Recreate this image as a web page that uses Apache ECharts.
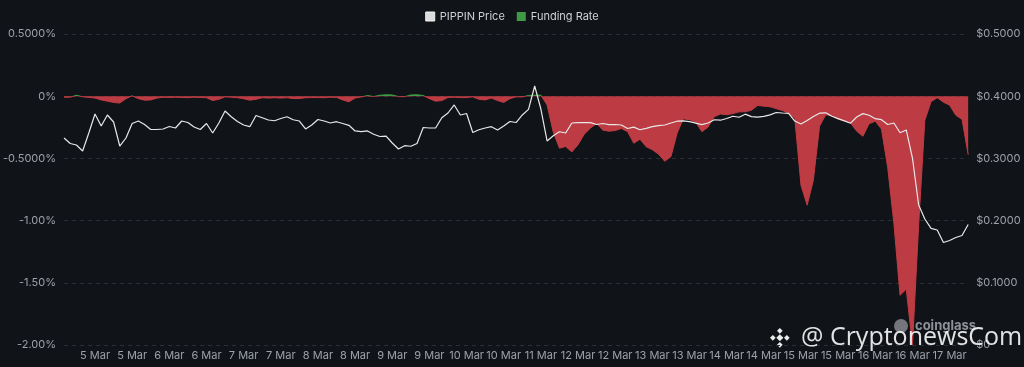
<!DOCTYPE html>
<html>
<head>
<meta charset="utf-8">
<script src="https://cdn.jsdelivr.net/npm/echarts@6/dist/echarts.min.js"></script>
<style>
html,body{margin:0;padding:0;background:#101318;}
#chart{width:1024px;height:367px;}
</style>
</head>
<body>
<div id="chart"></div>
<script>
// ---- data ----
const xTickLabels = ['5 Mar','5 Mar','6 Mar','6 Mar','7 Mar','7 Mar','8 Mar','8 Mar','9 Mar','9 Mar','10 Mar','10 Mar',
  '11 Mar','12 Mar','12 Mar','13 Mar','13 Mar','14 Mar','14 Mar','15 Mar','15 Mar','16 Mar','16 Mar','17 Mar'];
const firstTickIndex = 5;
const tickEvery = 6;

const pippinPrice = [
  0.3328, 0.3240, 0.3215, 0.3119, 0.3408, 0.3714, 0.3521, 0.3698, 0.3585, 0.3199,
  0.3328, 0.3561, 0.3601, 0.3545, 0.3465, 0.3465, 0.3473, 0.3513, 0.3489, 0.3601,
  0.3577, 0.3505, 0.3465, 0.3561, 0.3408, 0.3569, 0.3762, 0.3670, 0.3593, 0.3537,
  0.3510, 0.3690, 0.3654, 0.3617, 0.3605, 0.3641, 0.3669, 0.3621, 0.3601, 0.3473,
  0.3537, 0.3625, 0.3601, 0.3569, 0.3590, 0.3561, 0.3532, 0.3441, 0.3432, 0.3441,
  0.3389, 0.3352, 0.3359, 0.3248, 0.3151, 0.3204, 0.3195, 0.3240, 0.3497, 0.3489,
  0.3489, 0.3654, 0.3730, 0.3859, 0.3698, 0.3722, 0.3416, 0.3460, 0.3489, 0.3510,
  0.3457, 0.3521, 0.3593, 0.3577, 0.3698, 0.3789, 0.4164, 0.3794, 0.3280, 0.3363,
  0.3429, 0.3408, 0.3569, 0.3574, 0.3577, 0.3574, 0.3545, 0.3561, 0.3542, 0.3545,
  0.3537, 0.3481, 0.3502, 0.3460, 0.3484, 0.3510, 0.3527, 0.3537, 0.3569, 0.3598,
  0.3603, 0.3590, 0.3568, 0.3542, 0.3569, 0.3621, 0.3614, 0.3641, 0.3678, 0.3662,
  0.3711, 0.3672, 0.3664, 0.3677, 0.3699, 0.3738, 0.3730, 0.3725, 0.3601, 0.3553,
  0.3609, 0.3675, 0.3727, 0.3733, 0.3677, 0.3640, 0.3603, 0.3566, 0.3666, 0.3720,
  0.3693, 0.3638, 0.3622, 0.3545, 0.3569, 0.3412, 0.3457, 0.3006, 0.2251, 0.2026,
  0.1876, 0.1849, 0.1648, 0.1680, 0.1728, 0.1760, 0.1937
];

const fundingRate = [
  -0.008, -0.008, 0.008, -0.005, -0.010, -0.015, -0.030, -0.040, -0.050, -0.055,
  -0.020, 0.003, -0.020, -0.032, -0.030, -0.015, -0.008, -0.010, -0.008, -0.010,
  -0.012, -0.008, -0.010, -0.012, -0.035, -0.025, -0.005, -0.008, -0.012, -0.020,
  -0.032, -0.025, -0.012, -0.015, -0.012, -0.015, -0.012, -0.019, -0.019, -0.012,
  -0.011, -0.011, -0.012, -0.008, -0.010, -0.030, -0.045, -0.015, -0.006, 0.005,
  -0.003, 0.008, 0.011, 0.010, -0.003, -0.004, 0.010, 0.011, 0.006, -0.020,
  -0.040, -0.035, -0.010, -0.008, -0.011, -0.011, -0.005, -0.025, -0.030, -0.015,
  -0.035, -0.050, -0.020, -0.005, -0.006, 0.006, 0.008, 0.008, -0.070, -0.289,
  -0.418, -0.404, -0.448, -0.390, -0.305, -0.257, -0.219, -0.273, -0.281, -0.276,
  -0.260, -0.285, -0.378, -0.346, -0.406, -0.430, -0.466, -0.523, -0.486, -0.297,
  -0.182, -0.189, -0.209, -0.285, -0.249, -0.165, -0.143, -0.149, -0.140, -0.126,
  -0.125, -0.113, -0.074, -0.080, -0.085, -0.100, -0.115, -0.138, -0.177, -0.715,
  -0.876, -0.675, -0.241, -0.149, -0.159, -0.185, -0.197, -0.215, -0.281, -0.322,
  -0.221, -0.201, -0.265, -0.571, -1.021, -1.600, -1.551, -2.000, -1.037, -0.193,
  -0.044, -0.012, -0.048, -0.072, -0.153, -0.185, -0.470
];

const leftTicks = [-2, -1.5, -1, -0.5, 0, 0.5];
const leftTickLabels = ['-2.00%', '-1.50%', '-1.00%', '-0.5000%', '0%', '0.5000%'];
const rightTicks = [0, 0.1, 0.2, 0.3, 0.4, 0.5];
const rightTickLabels = ['$0', '$0.1000', '$0.2000', '$0.3000', '$0.4000', '$0.5000'];

// ---- chart ----
const categories = pippinPrice.map((_, i) => String(i));
const RED = '#bd3b42';
const GREEN = '#3f9a46';
const LABEL = '#9da1a8';
const FONT = 'Inter, "Noto Sans", sans-serif';

function tickLabel(ticks, labels, v) {
  for (let k = 0; k < ticks.length; k++) {
    if (Math.abs(ticks[k] - v) < 1e-9) return labels[k];
  }
  return '';
}

function diamond(cx, cy, s) {
  return {type: 'rect', x: cx, y: cy, rotation: Math.PI / 4,
    shape: {x: -s / 2, y: -s / 2, width: s, height: s},
    style: {fill: 'rgba(255,255,255,0.92)'}};
}

const chart = echarts.init(document.getElementById('chart'), null, {renderer: 'canvas'});
chart.setOption({
  backgroundColor: '#101318',
  animation: false,
  textStyle: {fontFamily: FONT},
  legend: {
    top: 6,
    left: 'center',
    itemWidth: 9,
    itemHeight: 9,
    itemGap: 12,
    icon: 'rect',
    textStyle: {color: '#cfd1d5', fontSize: 11, fontFamily: FONT},
    data: [
      {name: 'PIPPIN Price', itemStyle: {color: '#dcdcdc', borderColor: '#f2f2f2', borderWidth: 1}},
      {name: 'Funding Rate', itemStyle: {color: GREEN}}
    ]
  },
  grid: {left: 61, right: 48, top: 34, bottom: 22, containLabel: false},
  xAxis: {
    type: 'category',
    boundaryGap: false,
    data: categories,
    axisLine: {show: false},
    axisTick: {show: false},
    splitLine: {show: false},
    axisLabel: {
      color: LABEL,
      fontSize: 11,
      margin: 5,
      interval: (i) => i >= firstTickIndex && (i - firstTickIndex) % tickEvery === 0,
      formatter: (v) => xTickLabels[(Number(v) - firstTickIndex) / tickEvery] || ''
    }
  },
  yAxis: [
    {
      type: 'value',
      position: 'left',
      min: -2,
      max: 0.5,
      interval: 0.5,
      axisLine: {show: false},
      axisTick: {show: false},
      splitLine: {show: true, lineStyle: {color: '#2a2e35', type: [4, 4], width: 1}},
      axisLabel: {color: LABEL, fontSize: 11, margin: 8,
        formatter: (v) => tickLabel(leftTicks, leftTickLabels, v)}
    },
    {
      type: 'value',
      position: 'right',
      min: 0,
      max: 0.5,
      interval: 0.1,
      axisLine: {show: false},
      axisTick: {show: false},
      splitLine: {show: false},
      axisLabel: {color: LABEL, fontSize: 11, margin: 8,
        formatter: (v) => tickLabel(rightTicks, rightTickLabels, v)}
    }
  ],
  visualMap: {
    show: false,
    type: 'piecewise',
    seriesIndex: 1,
    dimension: 1,
    pieces: [
      {min: -2.1, max: 0, color: RED},
      {min: 0, max: 0.55, color: GREEN}
    ],
    outOfRange: {color: RED}
  },
  series: [
    {
      name: 'PIPPIN Price',
      type: 'line',
      yAxisIndex: 1,
      data: pippinPrice,
      symbol: 'none',
      z: 5,
      lineStyle: {color: '#e8e8e8', width: 1.2},
      itemStyle: {color: '#dcdcdc'}
    },
    {
      name: 'Funding Rate',
      type: 'line',
      yAxisIndex: 0,
      data: fundingRate,
      symbol: 'none',
      z: 2,
      lineStyle: {width: 1},
      itemStyle: {color: GREEN},
      areaStyle: {opacity: 1}
    }
  ],
  graphic: [
    {type: 'circle', left: 894, top: 319, shape: {r: 7}, style: {fill: 'rgba(150,152,158,0.75)'}, z: 50},
    {type: 'text', left: 915, top: 320, z: 50,
      style: {text: 'coinglass', fill: 'rgba(165,168,175,0.85)', font: 'bold 13px ' + FONT}},
    {type: 'group', left: 770, top: 328, z: 60, children: [
      diamond(11, 10, 5),
      diamond(11, 3, 4),
      diamond(11, 17, 4),
      diamond(4, 10, 4),
      diamond(18, 10, 4)
    ]},
    {type: 'text', left: 801, top: 325, z: 60,
      style: {text: '@ CryptonewsCom', fill: 'rgba(255,255,255,0.88)', font: '25px "Open Sans", sans-serif'}}
  ]
});
</script>
</body>
</html>
